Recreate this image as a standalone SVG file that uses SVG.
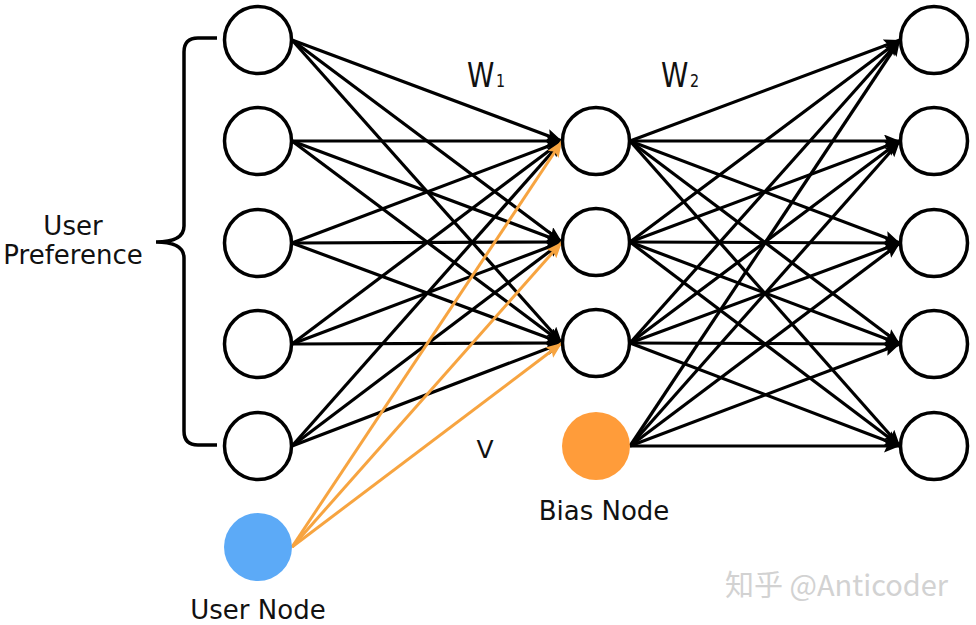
<svg xmlns="http://www.w3.org/2000/svg" width="976" height="625" viewBox="0 0 976 625">
<style>
.node{fill:#fff;stroke:#000;stroke-width:3.5}
.e{stroke:#000;stroke-width:3.2;fill:none}
.o{stroke:#F7A440;stroke-width:3;fill:none}
.t{font-family:"DejaVu Sans","Liberation Sans",sans-serif;fill:#111}
</style>
<defs>
<marker id="ab" markerUnits="userSpaceOnUse" markerWidth="18" markerHeight="14" refX="16" refY="6.5" orient="auto">
<path d="M0,0 L16,6.5 L0,13 L3,6.5 z" fill="#000"/>
</marker>
<marker id="ao" markerUnits="userSpaceOnUse" markerWidth="18" markerHeight="14" refX="16" refY="6.5" orient="auto">
<path d="M0,0 L16,6.5 L0,13 L3,6.5 z" fill="#F7A440"/>
</marker>
</defs>
<rect width="976" height="625" fill="#fff"/>
<g id="connectors">
<g marker-end="url(#ab)" class="e">
<line x1="292" y1="40" x2="562" y2="141"/>
<line x1="292" y1="40" x2="562" y2="242"/>
<line x1="292" y1="40" x2="562" y2="343"/>
<line x1="292" y1="141" x2="562" y2="141"/>
<line x1="292" y1="141" x2="562" y2="242"/>
<line x1="292" y1="141" x2="562" y2="343"/>
<line x1="292" y1="243" x2="562" y2="141"/>
<line x1="292" y1="243" x2="562" y2="242"/>
<line x1="292" y1="243" x2="562" y2="343"/>
<line x1="292" y1="344" x2="562" y2="141"/>
<line x1="292" y1="344" x2="562" y2="242"/>
<line x1="292" y1="344" x2="562" y2="343"/>
<line x1="292" y1="446" x2="562" y2="141"/>
<line x1="292" y1="446" x2="562" y2="242"/>
<line x1="292" y1="446" x2="562" y2="343"/>
<line x1="630" y1="141" x2="900" y2="40"/>
<line x1="630" y1="141" x2="900" y2="141"/>
<line x1="630" y1="141" x2="900" y2="243"/>
<line x1="630" y1="141" x2="900" y2="344"/>
<line x1="630" y1="141" x2="900" y2="446"/>
<line x1="630" y1="242" x2="900" y2="40"/>
<line x1="630" y1="242" x2="900" y2="141"/>
<line x1="630" y1="242" x2="900" y2="243"/>
<line x1="630" y1="242" x2="900" y2="344"/>
<line x1="630" y1="242" x2="900" y2="446"/>
<line x1="630" y1="343" x2="900" y2="40"/>
<line x1="630" y1="343" x2="900" y2="141"/>
<line x1="630" y1="343" x2="900" y2="243"/>
<line x1="630" y1="343" x2="900" y2="344"/>
<line x1="630" y1="343" x2="900" y2="446"/>
<line x1="630" y1="446" x2="900" y2="40"/>
<line x1="630" y1="446" x2="900" y2="141"/>
<line x1="630" y1="446" x2="900" y2="243"/>
<line x1="630" y1="446" x2="900" y2="344"/>
<line x1="630" y1="446" x2="900" y2="446"/>
</g>
<g marker-end="url(#ao)" class="o">
<line x1="292" y1="547" x2="562" y2="141"/>
<line x1="292" y1="547" x2="562" y2="242"/>
<line x1="292" y1="547" x2="562" y2="343"/>
</g>
</g>
<g id="brace">
<path d="M217,38 H198 Q184,38 184,52 V226 Q184,242 156,242 Q184,242 184,258 V431 Q184,445 198,445 H217" fill="none" stroke="#000" stroke-width="3.5"/>
</g>
<g id="in1"><circle class="node" cx="258" cy="40" r="33.5"/></g>
<g id="in2"><circle class="node" cx="258" cy="141" r="33.5"/></g>
<g id="in3"><circle class="node" cx="258" cy="243" r="33.5"/></g>
<g id="in4"><circle class="node" cx="258" cy="344" r="33.5"/></g>
<g id="in5"><circle class="node" cx="258" cy="446" r="33.5"/></g>
<g id="user"><circle cx="258" cy="547" r="34" fill="#5CAAF7"/><text class="t" x="258" y="619" font-size="26" text-anchor="middle">User Node</text></g>
<g id="h1"><circle class="node" cx="596" cy="141" r="33.5"/></g>
<g id="h2"><circle class="node" cx="596" cy="242" r="33.5"/></g>
<g id="h3"><circle class="node" cx="596" cy="343" r="33.5"/></g>
<g id="bias"><circle cx="596" cy="446" r="34" fill="#FF9C3A"/><text class="t" x="604" y="520" font-size="26" text-anchor="middle">Bias Node</text></g>
<g id="out1"><circle class="node" cx="934" cy="40" r="33.5"/></g>
<g id="out2"><circle class="node" cx="934" cy="141" r="33.5"/></g>
<g id="out3"><circle class="node" cx="934" cy="243" r="33.5"/></g>
<g id="out4"><circle class="node" cx="934" cy="344" r="33.5"/></g>
<g id="out5"><circle class="node" cx="934" cy="446" r="33.5"/></g>
<g id="labels">
<text class="t" x="73" y="235" font-size="26" text-anchor="middle">User</text>
<text class="t" x="73" y="264" font-size="26" text-anchor="middle">Preference</text>
<text class="t" x="467" y="87" font-size="33" transform="translate(467 0) scale(0.84 1) translate(-467 0)">W<tspan font-size="17" dx="2">1</tspan></text>
<text class="t" x="661" y="87" font-size="33" transform="translate(661 0) scale(0.84 1) translate(-661 0)">W<tspan font-size="17" dx="2">2</tspan></text>
<text class="t" x="485" y="458" font-size="25" text-anchor="middle">V</text>
<text x="725" y="596" font-size="29" fill="#d2d2d2" font-family="'Noto Sans CJK SC','DejaVu Sans',sans-serif">知乎 @Anticoder</text>
</g>
</svg>
